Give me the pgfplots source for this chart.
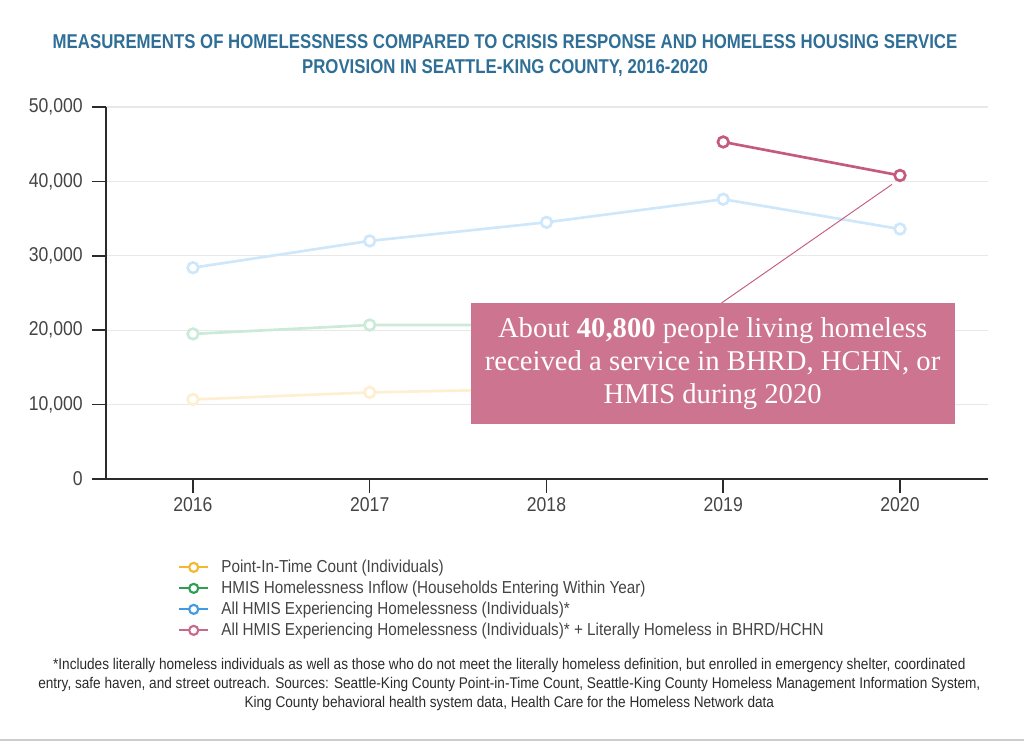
\documentclass[border=0pt]{standalone}
\usepackage{fontspec}
\setmainfont{Liberation Serif}
\newfontfamily\cond{Liberation Sans}[FakeStretch=0.88]
\newfontfamily\condt{Liberation Sans}[FakeStretch=0.84]
\usepackage{pgfplots}
\pgfplotsset{compat=1.18}

\definecolor{titleblue}{HTML}{2F6F97}
\definecolor{ticktext}{HTML}{444444}
\definecolor{axisline}{HTML}{2B2B2B}
\definecolor{gridgray}{HTML}{E8E8E8}
\definecolor{ystrong}{HTML}{F5B731}
\definecolor{yfaint}{HTML}{FDEFCF}
\definecolor{gstrong}{HTML}{2E9E55}
\definecolor{gfaint}{HTML}{CBEBD8}
\definecolor{bstrong}{HTML}{3F9BE3}
\definecolor{bfaint}{HTML}{CFE7FA}
\definecolor{pline}{HTML}{C45A7E}
\definecolor{pstrong}{HTML}{C8698B}
\definecolor{boxpink}{HTML}{CC7490}

\begin{document}
\begin{tikzpicture}
\path[use as bounding box] (0,0) rectangle (768pt,558pt);

% title
\node[font=\condt\bfseries\fontsize{15}{18.5}\selectfont, text=titleblue, align=center]
  at (378.75pt,516.5pt)
  {MEASUREMENTS OF HOMELESSNESS COMPARED TO CRISIS RESPONSE AND HOMELESS HOUSING SERVICE\\
   PROVISION IN SEATTLE-KING COUNTY, 2016-2020};

\begin{axis}[
  at={(79.5pt,198.75pt)}, anchor=south west,
  scale only axis, width=661.5pt, height=279pt,
  xmin=2015.508, xmax=2020.498,
  ymin=0, ymax=50000,
  scaled y ticks=false,
  axis lines*=left,
  axis line style={-, draw=axisline, line width=1.1pt},
  tick align=outside,
  major tick length=10.5pt,
  tick style={draw=axisline, line width=1.1pt},
  xtick={2016,2017,2018,2019,2020},
  xticklabels={2016,2017,2018,2019,2020},
  ytick={0,10000,20000,30000,40000,50000},
  yticklabels={0,{10,000},{20,000},{30,000},{40,000},{50,000}},
  ticklabel style={font=\cond\fontsize{15}{18}\selectfont, text=ticktext},
  yticklabel style={xshift=-3.5pt},
  ymajorgrids,
  grid style={draw=gridgray, line width=0.9pt},
  clip=false,
  legend image code/.code={
    \draw[line width=1.6pt,#1] (0pt,0pt) -- (22pt,0pt);
    \filldraw[line width=1.6pt,#1,fill=white] (11pt,0pt) circle (3.4pt);
  },
  legend style={
    at={(0.0816,-0.2124)}, anchor=north west,
    draw=none, fill=none, inner sep=0pt, outer sep=0pt,
    font=\cond\fontsize{13}{15}\selectfont, text=ticktext,
    nodes={inner sep=1pt, text height=9.5pt, text depth=2.5pt},
    row sep=1.75pt,
    /tikz/every odd column/.append style={column sep=8pt},
  },
  legend cell align=left,
]

% Point-In-Time Count (Individuals)
\addplot[forget plot, draw=yfaint, line width=2pt, mark=*, mark size=4pt,
  mark options={draw=yfaint, fill=white, line width=2pt}]
  coordinates {(2016,10688) (2017,11643) (2018,12112) (2019,11199) (2020,11751)};
% HMIS Homelessness Inflow
\addplot[forget plot, draw=gfaint, line width=2pt, mark=*, mark size=4pt,
  mark options={draw=gfaint, fill=white, line width=2pt}]
  coordinates {(2016,19500) (2017,20700) (2018,20700) (2019,21000) (2020,19600)};
% All HMIS Experiencing Homelessness
\addplot[forget plot, draw=bfaint, line width=2pt, mark=*, mark size=4pt,
  mark options={draw=bfaint, fill=white, line width=2pt}]
  coordinates {(2016,28400) (2017,32000) (2018,34500) (2019,37600) (2020,33600)};
% + Literally Homeless in BHRD/HCHN
\addplot[forget plot, draw=pline, line width=2pt, mark=*, mark size=4pt,
  mark options={draw=pline, fill=white, line width=2pt}]
  coordinates {(2019,45300) (2020,40800)};

\addlegendimage{draw=ystrong}
\addlegendentry{Point-In-Time Count (Individuals)}
\addlegendimage{draw=gstrong}
\addlegendentry{HMIS Homelessness Inflow (Households Entering Within Year)}
\addlegendimage{draw=bstrong}
\addlegendentry{All HMIS Experiencing Homelessness (Individuals)*}
\addlegendimage{draw=pstrong}
\addlegendentry{All HMIS Experiencing Homelessness (Individuals)* + Literally Homeless in BHRD/HCHN}

\coordinate (la) at (axis cs:2018.99,23656);
\coordinate (lb) at (axis cs:2019.955,39600);
\coordinate (boxc) at (axis cs:2018.94,15520);
\end{axis}

% annotation, drawn over the plot
\draw[pline, line width=0.7pt] (la) -- (lb);
\node[fill=boxpink, text=white, align=center, minimum width=363pt, minimum height=90.75pt,
  inner sep=0pt, font=\fontsize{21.5}{25}\selectfont]
  at (boxc)
  {About \textbf{40,800} people living homeless\\
   received a service in BHRD, HCHN, or\\
   HMIS during 2020};

% footnote
\node[font=\cond\fontsize{11.6}{14.25}\selectfont, text=axisline, align=center]
  at (382pt,45pt)
  {*Includes literally homeless individuals as well as those who do not meet the literally homeless definition, but enrolled in emergency shelter, coordinated\\
   entry, safe haven, and street outreach. Sources: Seattle-King County Point-in-Time Count, Seattle-King County Homeless Management Information System,\\
   King County behavioral health system data, Health Care for the Homeless Network data};

\draw[draw=black!20, line width=1.1pt] (0pt,3pt) -- (768pt,3pt);
\end{tikzpicture}
\end{document}
